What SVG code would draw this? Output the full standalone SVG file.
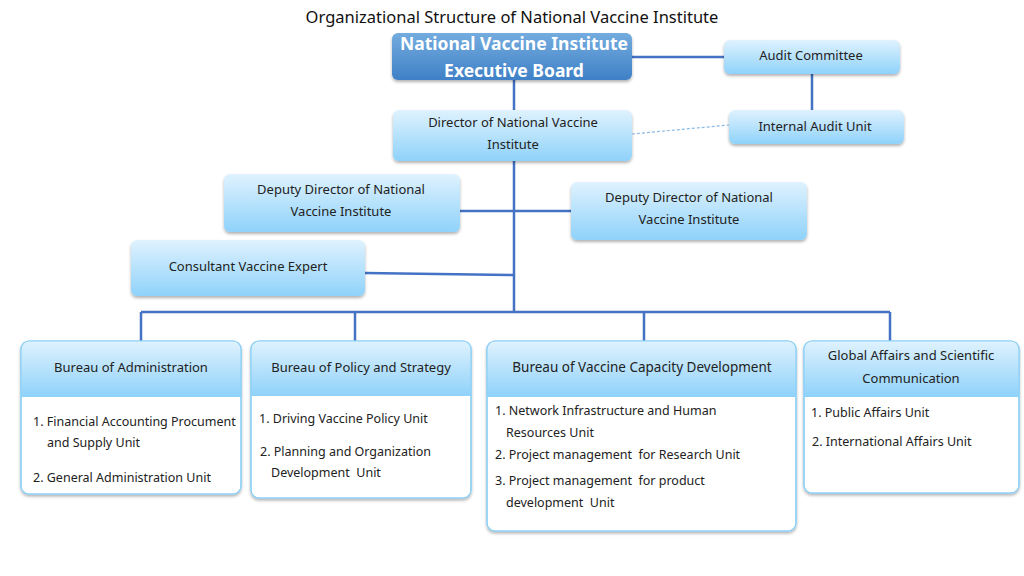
<svg xmlns="http://www.w3.org/2000/svg" width="1024" height="576" viewBox="0 0 1024 576">
<defs>
<linearGradient id="gLight" x1="0" y1="0" x2="0" y2="1">
<stop offset="0" stop-color="#dff2fe"/>
<stop offset="1" stop-color="#8fd2fa"/>
</linearGradient>
<linearGradient id="gDark" x1="0" y1="0" x2="0" y2="1">
<stop offset="0" stop-color="#74acdf"/>
<stop offset="1" stop-color="#3f80c6"/>
</linearGradient>
<filter id="sh" x="-10%" y="-20%" width="120%" height="150%">
<feDropShadow dx="0" dy="2" stdDeviation="1.5" flood-color="#000" flood-opacity="0.3"/>
</filter>
<clipPath id="c1"><rect x="21" y="341" width="220" height="153" rx="8"/></clipPath>
<clipPath id="c2"><rect x="251" y="341" width="220" height="157" rx="8"/></clipPath>
<clipPath id="c3"><rect x="487" y="341" width="309" height="190" rx="8"/></clipPath>
<clipPath id="c4"><rect x="804" y="341" width="215" height="152" rx="8"/></clipPath>
</defs>
<style>
text{font-family:"Noto Sans","Open Sans","DejaVu Sans",sans-serif;font-size:13px;fill:#222;white-space:pre}
.c{text-anchor:middle}
.it{font-size:12.5px}
.box{fill:url(#gLight);filter:url(#sh)}
.ln{stroke:#4472c4;stroke-width:2.5;fill:none}
.card{fill:#fff;stroke:#8dd0f5;stroke-width:1.2;filter:url(#sh)}
.hdr{fill:url(#gLight)}
</style>
<text x="512" y="23" class="c" style="font-size:16.5px;fill:#111">Organizational Structure of National Vaccine Institute</text>

<g id="connectors">
<path class="ln" d="M514 80V110M514 161V312M632 57H724M812 74V110M460 211H571M365 273L514 275M141 312H890M141 312V342M355 312V342M644 312V342M890 312V342"/>
<path d="M632 134L729 125" stroke="#8ab8e6" stroke-width="1.2" stroke-dasharray="3,2" fill="none"/>
</g>

<g id="board">
<rect x="392" y="33" width="240" height="47" rx="6" fill="url(#gDark)" filter="url(#sh)"/>
<text x="514" y="50" class="c" style="font-size:17.5px;font-weight:bold;fill:#fff">National Vaccine Institute</text>
<text x="514" y="77" class="c" style="font-size:17.5px;font-weight:bold;fill:#fff">Executive Board</text>
</g>

<g id="audit-committee">
<rect class="box" x="724" y="40" width="176" height="34" rx="6"/>
<text x="811" y="60" class="c">Audit Committee</text>
</g>

<g id="internal-audit">
<rect class="box" x="729" y="110" width="175" height="34" rx="6"/>
<text x="815" y="131" class="c">Internal Audit Unit</text>
</g>

<g id="director">
<rect class="box" x="393" y="110" width="239" height="51" rx="6"/>
<text x="513" y="127" class="c">Director of National Vaccine</text>
<text x="513" y="149" class="c">Institute</text>
</g>

<g id="deputy-left">
<rect class="box" x="224" y="174" width="236" height="58" rx="6"/>
<text x="341" y="194" class="c">Deputy Director of National</text>
<text x="341" y="216" class="c">Vaccine Institute</text>
</g>

<g id="deputy-right">
<rect class="box" x="571" y="182" width="236" height="58" rx="6"/>
<text x="689" y="202" class="c">Deputy Director of National</text>
<text x="689" y="224" class="c">Vaccine Institute</text>
</g>

<g id="consultant">
<rect class="box" x="131" y="240" width="234" height="56" rx="6"/>
<text x="248" y="271" class="c">Consultant Vaccine Expert</text>
</g>

<g id="bureau-admin">
<rect class="card" x="21" y="341" width="220" height="153" rx="8"/>
<rect class="hdr" x="21" y="341" width="220" height="56" clip-path="url(#c1)"/>
<rect x="21" y="341" width="220" height="153" rx="8" fill="none" stroke="#8dd0f5" stroke-width="1.2"/>
<text x="131" y="372" class="c">Bureau of Administration</text>
<text x="33" y="426" class="it">1. Financial Accounting Procument</text>
<text x="47" y="447" class="it">and Supply Unit</text>
<text x="33" y="482" class="it">2. General Administration Unit</text>
</g>

<g id="bureau-policy">
<rect class="card" x="251" y="341" width="220" height="157" rx="8"/>
<rect class="hdr" x="251" y="341" width="220" height="55" clip-path="url(#c2)"/>
<rect x="251" y="341" width="220" height="157" rx="8" fill="none" stroke="#8dd0f5" stroke-width="1.2"/>
<text x="361" y="372" class="c">Bureau of Policy and Strategy</text>
<text x="259" y="423" class="it">1. Driving Vaccine Policy Unit</text>
<text x="260" y="456" class="it">2. Planning and Organization</text>
<text x="271" y="477" class="it">Development  Unit</text>
</g>

<g id="bureau-capacity">
<rect class="card" x="487" y="341" width="309" height="190" rx="8"/>
<rect class="hdr" x="487" y="341" width="309" height="56" clip-path="url(#c3)"/>
<rect x="487" y="341" width="309" height="190" rx="8" fill="none" stroke="#8dd0f5" stroke-width="1.2"/>
<text x="642" y="372" class="c" style="font-size:13.5px">Bureau of Vaccine Capacity Development</text>
<text x="495" y="415" class="it">1. Network Infrastructure and Human</text>
<text x="506" y="437" class="it">Resources Unit</text>
<text x="495" y="459" class="it">2. Project management  for Research Unit</text>
<text x="495" y="485" class="it">3. Project management  for product</text>
<text x="506" y="507" class="it">development  Unit</text>
</g>

<g id="global-affairs">
<rect class="card" x="804" y="341" width="215" height="152" rx="8"/>
<rect class="hdr" x="804" y="341" width="215" height="56" clip-path="url(#c4)"/>
<rect x="804" y="341" width="215" height="152" rx="8" fill="none" stroke="#8dd0f5" stroke-width="1.2"/>
<text x="911" y="360" class="c">Global Affairs and Scientific</text>
<text x="911" y="383" class="c">Communication</text>
<text x="811" y="417" class="it">1. Public Affairs Unit</text>
<text x="812" y="446" class="it">2. International Affairs Unit</text>
</g>
</svg>
